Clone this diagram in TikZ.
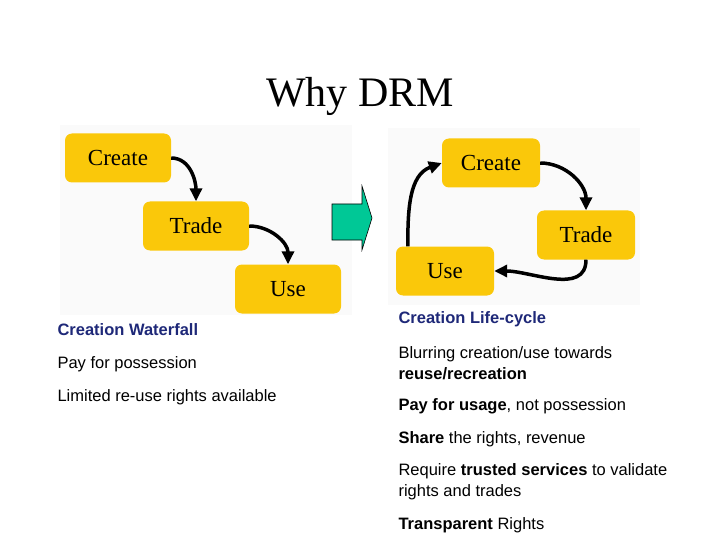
\documentclass[tikz,border=0pt]{standalone}
\usepackage{fontspec}
\setmainfont{Liberation Sans}
\newfontfamily\titlefont{Liberation Serif}
\usetikzlibrary{arrows.meta}
\definecolor{boxgold}{RGB}{250,200,10}
\definecolor{headblue}{RGB}{30,40,120}
\definecolor{arrowteal}{RGB}{0,200,150}
\begin{document}
\begin{tikzpicture}[x=1pt,y=-1pt,
  stage/.style={rectangle,rounded corners=7pt,fill=boxgold,minimum width=106pt,minimum height=49pt,font=\titlefont\fontsize{23}{23}\selectfont},
  stage2/.style={stage,minimum width=98pt},
  flow/.style={-{Triangle[length=13pt,width=12pt]},line width=3.5pt},
  txt/.style={anchor=west,align=left,font=\fontsize{16.5}{21}\selectfont}]
\useasboundingbox (0,0) rectangle (720,540);
%\draw[help lines, step=50] (0,0) grid (720,540);
\fill[black!2] (60,125) rectangle (352,315);
\fill[black!2] (388,128) rectangle (640,305);
\node(title) at (360,96) {\titlefont\fontsize{42}{42}\selectfont Why DRM};
% waterfall
\node[stage](c1) at (118,158) {Create};
\node[stage](t1) at (196,226) {Trade};
\node[stage](u1) at (288,289) {Use};
\draw[flow](c1.east) to[out=0,in=90] (t1.north);
\draw[flow](t1.east) to[out=0,in=90] (u1.north);
% life-cycle
\node[stage2](c2) at (491,163) {Create};
\node[stage2](t2) at (586,235) {Trade};
\node[stage2](u2) at (445,271) {Use};
\coordinate(ua) at ([xshift=12pt]u2.north west);
\draw[flow](c2.east) to[out=0,in=90] (t2.north);
\draw[flow](t2.south) to[out=-90,in=0] (u2.east);
\draw[flow](ua) to[out=90,in=200] (c2.west);
% transition arrow
\draw[line width=0.6pt,fill=arrowteal] (332,204) -- (362,204) -- (362,186) -- (372,218)
  -- (362,250) -- (362,240) -- (332,240) -- cycle;
% texts
\node[txt,text=headblue,font=\bfseries\fontsize{16.5}{21}\selectfont](h1) at (54,330) {Creation Waterfall};
\node[txt](l1) at (54,364) {Pay for possession};
\node[txt](l2) at (54,397) {Limited re-use rights available};
\node[txt,text=headblue,font=\bfseries\fontsize{16.5}{21}\selectfont](h2) at (395,319) {Creation Life-cycle};
\node[txt](r1) at (395,363) {Blurring creation/use towards\\\textbf{reuse/recreation}};
\node[txt](r2) at (395,406) {\textbf{Pay for usage}, not possession};
\node[txt](r3) at (395,439) {\textbf{Share} the rights, revenue};
\node[txt](r4) at (395,482) {Require \textbf{trusted services} to validate\\rights and trades};
\node[txt](r5) at (395,525) {\textbf{Transparent} Rights};
\end{tikzpicture}
\end{document}
